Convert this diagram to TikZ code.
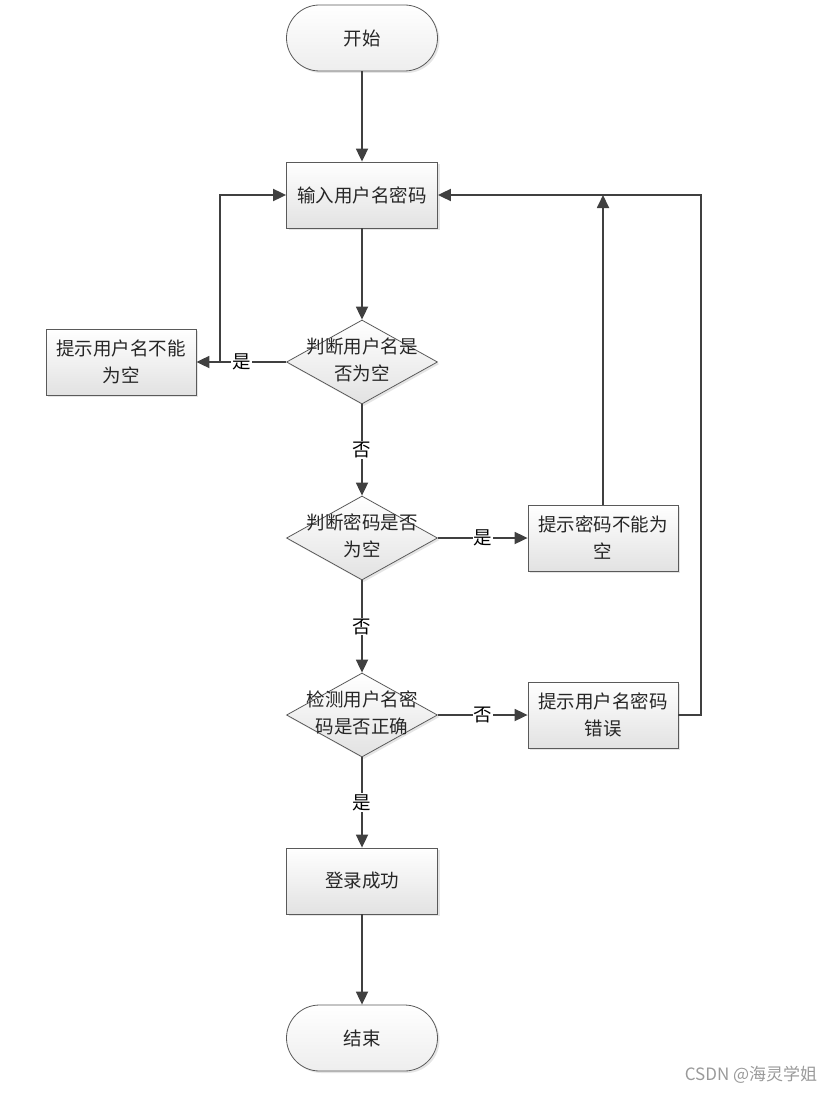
\documentclass[tikz,border=0pt]{standalone}
\usepackage{fontspec}
\setmainfont{Noto Sans CJK SC}
\usetikzlibrary{arrows.meta}
\usetikzlibrary{shapes.geometric}
\usetikzlibrary{shadows}
\definecolor{L}{HTML}{404040}
\definecolor{B}{HTML}{5A5A5A}
\definecolor{F}{HTML}{E2E2E2}
\definecolor{W}{HTML}{9A9A9A}
\newcommand*{\nodefont}{\fontsize{18.5}{27}\selectfont}
\newcommand*{\dtext}[1]{\makebox[0pt]{\begin{tabular}{@{}c@{}}#1\end{tabular}}}
\tikzstyle{box}=[draw=B, line width=0.8pt, top color=white, bottom color=F, minimum width=151pt, minimum height=66pt, align=center, inner sep=0pt, drop shadow={shadow xshift=2pt, shadow yshift=-2pt, fill=gray!40}]
\tikzstyle{term}=[box, rounded corners=33pt, bottom color=F!60]
\tikzstyle{decision}=[box, diamond, aspect=1.8, minimum width=151pt, minimum height=84pt]
\tikzstyle{line}=[draw=L, line width=1.8pt, -{Triangle[length=13pt,width=12pt]}]
\tikzstyle{lbl}=[fill=white, inner sep=1pt, text=black]

\begin{document}
\begin{tikzpicture}[x=1pt, y=-1pt, font=\nodefont, text=black!85]
    \path [use as bounding box] (0,0) rectangle (835,1094);
        \node [term] (start) at (362,38) {开始};
        \node [box] (input) at (362,195) {输入用户名密码};
        \node [decision] (user) at (362,362) {\dtext{判断用户名是\\否为空}};
        \node [box, minimum width=150pt] (usertip) at (121,362) {提示用户名不能\\为空};
        \node [decision] (pass) at (362,538) {\dtext{判断密码是否\\为空}};
        \node [box, minimum width=150pt] (passtip) at (603,538) {提示密码不能为\\空};
        \node [decision] (check) at (362,715) {\dtext{检测用户名密\\码是否正确}};
        \node [box, minimum width=150pt] (errtip) at (603,715) {提示用户名密码\\错误};
        \node [box] (login) at (362,881) {登录成功};
        \node [term] (end) at (362,1038) {结束};
        \coordinate (userjoin) at (220,362);
        \coordinate (passup) at (603,195);
        \coordinate (errturn) at (701,715);
        \node [text=W, font=\fontsize{17}{19}\selectfont] (mark) at (751,1075) {CSDN @海灵学姐};
        \draw [line] (start) -- (input);
        \draw [line] (input) -- (user);
        \draw [line] (user.west) -- node [lbl] {是} (usertip.east);
        \draw [line] (userjoin) |- (input.west);
        \draw [line] (user.south) -- node [lbl] {否} (pass.north);
        \draw [line] (pass.east) -- node [lbl] {是} (passtip.west);
        \draw [line] (passtip.north) -- (passup);
        \draw [line] (pass.south) -- node [lbl] {否} (check.north);
        \draw [line] (check.east) -- node [lbl] {否} (errtip.west);
        \draw [line] (errtip.east) -- (errturn) |- (input.east);
        \draw [line] (check.south) -- node [lbl] {是} (login.north);
        \draw [line] (login) -- (end);
    \end{tikzpicture}
\end{document}
